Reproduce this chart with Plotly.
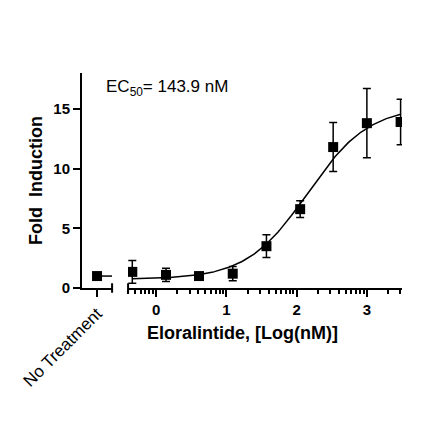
import numpy as np
import plotly.graph_objects as go

# ── Data ─────────────────────────────────────────────────────────────────
log_conc = [-0.34, 0.14, 0.61, 1.09, 1.57, 2.05, 2.52, 3.0, 3.48]
fold_induction = [1.35, 1.1, 1.0, 1.2, 3.5, 6.6, 11.8, 13.8, 13.9]
fold_err = [0.95, 0.55, 0.12, 0.6, 0.95, 0.7, 2.05, 2.9, 1.9]

no_treatment_label = "No Treatment"
no_treatment_value = 1.0

# 4PL fit parameters
fit_bottom = 0.72
fit_top = 15.2
fit_ec50_nm = 143.9
fit_hill = 1.0

y_ticks = [0, 5, 10, 15]
x_ticks = [0, 1, 2, 3]

FONT = "Liberation Sans, Arial, sans-serif"
BLACK = "#000000"

# log-spaced minor tick positions on the concentration axis
minor_ticks = [np.log10(k * 10.0 ** d) for d in range(-1, 4) for k in range(2, 10)]
minor_ticks = [v for v in minor_ticks if -0.41 <= v <= 3.5]

# fitted curve
curve_x = np.linspace(min(log_conc), max(log_conc), 200)
curve_y = fit_bottom + (fit_top - fit_bottom) / (
    1 + 10 ** ((np.log10(fit_ec50_nm) - curve_x) * fit_hill)
)

fig = go.Figure()

# ── No-treatment control ─────────────────────────────────────────────────
fig.add_trace(go.Scatter(
    x=[1, 2], y=[no_treatment_value, no_treatment_value],
    mode="lines", line=dict(color=BLACK, width=1.5),
    xaxis="x", yaxis="y", showlegend=False, hoverinfo="skip",
))
fig.add_trace(go.Scatter(
    x=[1], y=[no_treatment_value],
    mode="markers", marker=dict(symbol="square", size=10, color=BLACK),
    xaxis="x", yaxis="y", showlegend=False,
))

# ── Dose-response curve + points ─────────────────────────────────────────
fig.add_trace(go.Scatter(
    x=curve_x, y=curve_y, mode="lines",
    line=dict(color=BLACK, width=1.5),
    xaxis="x2", yaxis="y", showlegend=False, hoverinfo="skip",
))
fig.add_trace(go.Scatter(
    x=log_conc, y=fold_induction, mode="markers",
    marker=dict(symbol="square", size=10, color=BLACK),
    error_y=dict(type="data", array=fold_err, color=BLACK, thickness=1.5, width=4),
    xaxis="x2", yaxis="y", showlegend=False,
))

# ── Axis break caps ──────────────────────────────────────────────────────
for xref, xpos in [("x domain", 1), ("x2 domain", 0)]:
    fig.add_shape(type="line", xref=xref, x0=xpos, x1=xpos,
                  yref="y domain", y0=-0.022, y1=0.022,
                  line=dict(color=BLACK, width=2))

# ── Text ─────────────────────────────────────────────────────────────────
fig.add_annotation(
    text="EC<sub>50</sub>= 143.9 nM", xref="paper", yref="paper",
    x=0.068, y=0.93, xanchor="left", yanchor="middle", showarrow=False,
    font=dict(family=FONT, size=17, color=BLACK),
)
fig.add_annotation(
    text="<b>Eloralintide, [Log(nM)]</b>", xref="paper", yref="paper",
    x=0.5, y=-0.209, xanchor="center", yanchor="middle", showarrow=False,
    font=dict(family=FONT, size=18, color=BLACK),
)

axis_common = dict(
    showline=True, linecolor=BLACK, linewidth=2, showgrid=False, zeroline=False,
    ticks="outside", tickcolor=BLACK, tickwidth=2, ticklen=7,
)

# page body adds an 8px offset, so margins are shifted to compensate
fig.update_layout(
    width=440, height=440,
    margin=dict(l=74, r=46, t=65, b=160, autoexpand=False),
    plot_bgcolor="white", paper_bgcolor="white",
    font=dict(family=FONT, color=BLACK),
    xaxis=dict(
        **axis_common, domain=[0, 0.094], range=[0, 2], anchor="y",
        tickvals=[1], ticktext=[no_treatment_label], tickangle=-45,
        tickfont=dict(family=FONT, size=17, color=BLACK),
    ),
    xaxis2=dict(
        **axis_common, domain=[0.144, 1], range=[-0.4, 3.5], anchor="y",
        tickvals=x_ticks, ticktext=[str(v) for v in x_ticks],
        tickfont=dict(family=FONT, size=15, color=BLACK, weight="bold"),
        minor=dict(tickmode="array", tickvals=minor_ticks, ticks="outside",
                   ticklen=4, tickwidth=1.5, tickcolor=BLACK),
    ),
    yaxis=dict(
        **axis_common, range=[0, 18], anchor="x",
        tickvals=y_ticks, ticktext=[str(v) for v in y_ticks],
        tickfont=dict(family=FONT, size=15, color=BLACK, weight="bold"),
        title=dict(text="<b>Fold  Induction</b>", standoff=6,
                   font=dict(family=FONT, size=18, color=BLACK)),
    ),
)

fig.write_html("out.html")
